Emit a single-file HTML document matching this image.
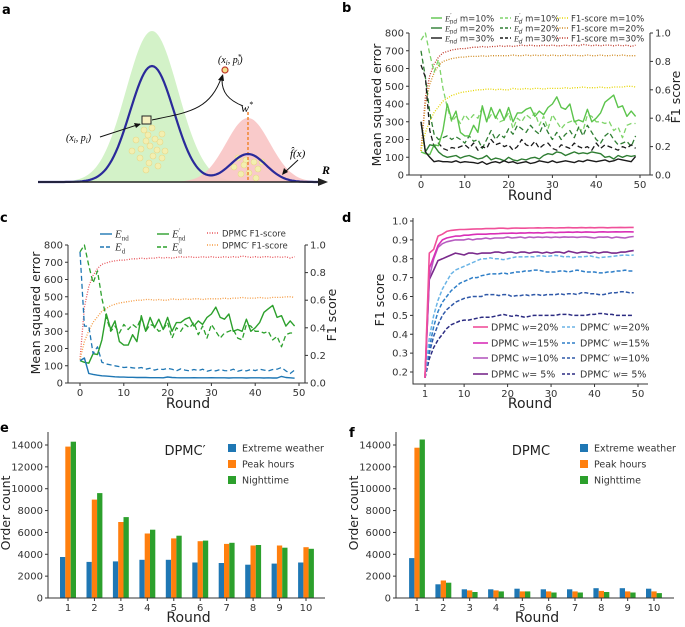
<!DOCTYPE html>
<html><head><meta charset="utf-8"><style>
html,body{margin:0;padding:0;background:#fff}
svg{display:block;font-family:"DejaVu Sans","Liberation Sans",sans-serif}
</style></head><body>
<svg id="fig" width="685" height="627" viewBox="0 0 685 627" xmlns="http://www.w3.org/2000/svg">
<!-- panel a illustration -->
<g>
<text x="2" y="14" font-size="13" font-weight="bold">a</text>
<path id="greenfill" fill="#d3f2c8"/>
<path id="pinkfill" fill="#f8c4c4" opacity="0.9"/>
<g id="dots"></g>
<line x1="248" y1="112" x2="248" y2="182" stroke="#f08a3a" stroke-width="1.6" stroke-dasharray="3,2"/>
<path id="fhat" fill="none" stroke="#2a2a9a" stroke-width="2.2"/>
<line x1="38" y1="182" x2="322" y2="182" stroke="#222" stroke-width="1.6"/>
<polygon points="328,182 318,178 318,186" fill="#222"/>
<text x="322" y="174" font-size="12" font-style="italic" font-weight="bold" font-family="Liberation Serif,serif">R</text>
<rect x="142" y="116" width="9" height="8" fill="#f5f0c0" stroke="#222" stroke-width="1"/>
<path d="M100 137 L140 124" stroke="#111" fill="none" stroke-width="1"/><polygon points="141,124 134,123 136,128" fill="#111"/>
<path d="M152 120 C190 112,210 110,222 76" stroke="#111" fill="none" stroke-width="1"/><polygon points="223,74 218,80 224,81" fill="#111"/>
<path d="M243 106 C228 100,222 92,222 80" stroke="#111" fill="none" stroke-width="1"/>
<circle cx="225" cy="70" r="3" fill="#f5e08a" stroke="#c0392b" stroke-width="1.2"/>
<text x="218" y="63" font-size="10" font-style="italic" font-family="Liberation Serif,serif">(x<tspan font-size="7" dy="2">i</tspan><tspan dy="-2">, p</tspan><tspan font-size="7" dy="-4">*</tspan><tspan font-size="7" dx="-4" dy="6">i</tspan><tspan dy="-2">)</tspan></text>
<text x="241" y="112" font-size="12" font-style="italic" font-family="Liberation Serif,serif">w<tspan font-size="8" dy="-5">*</tspan></text>
<text x="66" y="141" font-size="10" font-style="italic" font-family="Liberation Serif,serif">(x<tspan font-size="7" dy="2">i</tspan><tspan dy="-2">, p</tspan><tspan font-size="7" dy="2">i</tspan><tspan dy="-2">)</tspan></text>
<text x="290" y="157" font-size="11" font-style="italic" font-family="Liberation Serif,serif">f̂(x)</text>
<path d="M298 160 L284 173" stroke="#111" fill="none" stroke-width="1"/><polygon points="282,175 284,168 288,172" fill="#111"/>
</g>
<g id="plots"></g>
</svg>
<script>
// ---------- data ----------
const roundsC = Array.from({length:50},(_, i)=>i);
const cEnd = [130,145,55,50,45,42,40,38,36,35,34,33,33,32,32,32,31,31,31,30,35,32,31,30,30,30,31,30,30,30,31,30,30,30,29,30,30,30,29,30,30,30,29,30,29,29,38,32,30,28];
const cEd = [760,330,330,170,210,120,110,105,100,95,90,92,88,85,90,80,85,75,82,78,85,80,70,82,75,70,78,72,80,68,75,70,78,72,70,80,68,75,70,78,72,80,75,70,78,80,90,70,55,75];
const cEndP = [130,120,115,170,165,250,400,310,360,240,220,220,280,240,390,300,380,320,370,310,380,300,350,350,370,380,330,360,340,380,400,440,380,370,400,300,310,300,370,300,320,350,410,430,450,380,390,330,360,330];
const cEdP = [760,800,680,580,650,490,380,300,330,290,340,310,340,320,380,300,340,330,300,310,350,260,320,300,340,320,350,280,330,260,340,300,260,290,300,310,260,250,340,330,300,300,290,300,250,270,210,280,290,290];
const cF1 = [0.17,0.55,0.7,0.78,0.83,0.86,0.87,0.88,0.885,0.89,0.89,0.895,0.9,0.9,0.905,0.9,0.905,0.905,0.91,0.905,0.91,0.905,0.91,0.915,0.91,0.915,0.91,0.91,0.915,0.91,0.915,0.91,0.91,0.915,0.91,0.915,0.91,0.92,0.915,0.91,0.915,0.91,0.915,0.915,0.91,0.915,0.91,0.915,0.905,0.915];
const cF1P = [0.17,0.3,0.38,0.44,0.48,0.52,0.54,0.56,0.57,0.58,0.585,0.59,0.595,0.6,0.6,0.605,0.605,0.6,0.605,0.6,0.6,0.61,0.605,0.605,0.61,0.605,0.61,0.61,0.605,0.61,0.61,0.61,0.61,0.615,0.61,0.615,0.615,0.62,0.615,0.615,0.615,0.62,0.615,0.615,0.62,0.62,0.62,0.625,0.625,0.62];
const bNd20 = [300,130,170,165,130,110,100,105,110,95,105,110,100,90,95,110,85,95,90,80,100,85,80,90,85,95,100,90,110,120,115,130,125,110,120,130,120,125,120,130,125,120,100,105,90,110,100,110,105,110];
const bNd30 = [300,130,100,75,80,75,75,72,80,70,75,72,70,65,75,60,70,75,68,80,70,75,65,70,75,65,70,80,75,70,80,70,75,80,75,70,80,75,85,80,75,80,85,75,80,90,85,80,75,105];
const bD20 = [700,550,350,230,200,210,220,200,215,200,180,220,190,200,150,200,250,200,230,210,260,230,280,260,240,280,250,230,290,240,200,240,200,230,250,210,270,220,280,240,200,180,220,240,200,170,180,190,160,220];
const bD30 = [620,550,250,160,180,150,140,155,150,160,170,150,180,140,160,150,200,170,180,160,170,140,160,200,170,160,190,150,170,180,150,140,170,160,150,180,160,150,160,140,180,150,170,160,150,140,160,150,170,150];
const bF20 = [0.17,0.5,0.64,0.72,0.77,0.8,0.81,0.82,0.825,0.83,0.83,0.835,0.835,0.835,0.84,0.835,0.84,0.84,0.84,0.84,0.84,0.845,0.84,0.84,0.845,0.84,0.845,0.84,0.845,0.84,0.845,0.84,0.84,0.845,0.84,0.845,0.84,0.84,0.845,0.84,0.84,0.845,0.84,0.84,0.845,0.84,0.845,0.84,0.84,0.84];
const roundsD = Array.from({length:49},(_, i)=>i+1);
const d20 = [.17,.83,.85,.92,.93,.945,.95,.953,.955,.955,.956,.957,.958,.958,.96,.96,.96,.962,.962,.96,.962,.963,.962,.962,.963,.963,.964,.963,.964,.964,.963,.964,.964,.965,.964,.964,.965,.964,.965,.964,.965,.965,.964,.965,.965,.966,.965,.966,.966];
const d15 = [.17,.75,.81,.87,.9,.91,.915,.92,.92,.925,.925,.928,.93,.93,.93,.932,.932,.933,.935,.935,.936,.935,.937,.936,.938,.937,.938,.936,.939,.94,.938,.94,.94,.941,.94,.942,.94,.942,.941,.94,.942,.943,.941,.942,.943,.942,.943,.943,.942];
const d10 = [.17,.7,.8,.86,.88,.89,.895,.9,.9,.9,.905,.9,.905,.905,.91,.905,.91,.91,.91,.915,.91,.912,.915,.91,.915,.912,.915,.913,.915,.912,.915,.913,.916,.914,.915,.913,.915,.916,.913,.91,.915,.914,.916,.91,.915,.912,.91,.915,.918];
const d5 = [.17,.69,.74,.79,.8,.81,.82,.83,.825,.82,.83,.83,.825,.83,.83,.83,.835,.835,.83,.835,.835,.83,.835,.835,.83,.835,.835,.83,.835,.83,.835,.835,.83,.84,.835,.83,.835,.835,.83,.835,.83,.835,.835,.83,.83,.835,.835,.84,.843];
const p20 = [.17,.38,.5,.58,.64,.68,.72,.74,.75,.76,.77,.78,.79,.8,.8,.805,.8,.8,.795,.8,.805,.81,.81,.81,.812,.81,.815,.815,.812,.815,.818,.815,.81,.812,.806,.81,.81,.812,.815,.81,.805,.808,.81,.812,.815,.818,.82,.818,.82];
const p15 = [.17,.33,.44,.52,.57,.6,.63,.65,.67,.68,.69,.7,.7,.71,.715,.72,.72,.72,.725,.72,.725,.73,.73,.735,.735,.74,.74,.735,.73,.73,.73,.735,.735,.73,.735,.74,.735,.73,.73,.73,.725,.725,.73,.73,.735,.735,.74,.735,.735];
const p10 = [.17,.3,.39,.45,.5,.53,.55,.57,.58,.59,.595,.6,.6,.6,.61,.61,.61,.605,.61,.61,.6,.605,.605,.61,.605,.61,.61,.605,.61,.61,.61,.615,.61,.615,.615,.61,.62,.62,.615,.615,.61,.61,.615,.62,.62,.625,.625,.62,.62];
const p5 = [.17,.27,.33,.37,.4,.43,.45,.46,.47,.475,.475,.48,.485,.49,.49,.49,.495,.5,.505,.5,.495,.5,.495,.49,.495,.5,.5,.5,.5,.5,.5,.505,.505,.505,.5,.5,.5,.5,.505,.505,.51,.51,.505,.505,.5,.5,.5,.5,.5];
const barRounds = [1,2,3,4,5,6,7,8,9,10];
const eWeather = [3750,3300,3350,3500,3500,3250,3200,3050,3150,3250];
const ePeak = [13850,9000,6950,5900,5450,5200,4950,4800,4800,4650];
const eNight = [14300,9600,7400,6250,5700,5250,5050,4850,4600,4500];
const fWeather = [3650,1250,800,800,850,800,800,900,900,850];
const fPeak = [13750,1600,700,700,600,600,600,650,600,600];
const fNight = [14500,1400,550,600,600,500,500,550,500,450];
const mseTicks = [0,100,200,300,400,500,600,700,800];
const f1Ticks = [0,0.2,0.4,0.6,0.8,1.0];
const roundTicks = [0,10,20,30,40,50];
const dTicks = [0.2,0.3,0.4,0.5,0.6,0.7,0.8,0.9,1.0];
const dRoundTicks = [1,10,20,30,40,50];
const countTicks = [0,2000,4000,6000,8000,10000,12000,14000];

// ---------- helpers ----------
const NS="http://www.w3.org/2000/svg";
const root=document.getElementById('plots');
const TFS=10;
function mk(tag,attrs,parent,txt){const e=document.createElementNS(NS,tag);for(const k in attrs)e.setAttribute(k,attrs[k]);if(txt!==undefined)e.textContent=txt;(parent||root).appendChild(e);return e;}
function lin(d0,d1,r0,r1){return v=>r0+(v-d0)/(d1-d0)*(r1-r0);}
function series(g,xs,ys,sx,sy,color,dash,w,name){
  const d=xs.map((x,i)=>(i?'L':'M')+sx(x).toFixed(1)+' '+sy(ys[i]).toFixed(1)).join(' ');
  const p=mk('path',{d:d,fill:'none',stroke:color,'stroke-width':w||1.3,'stroke-dasharray':dash||'none','stroke-linejoin':'round'},g);
  
  
}
function yTicks(g,ticks,sy,x,fmt,side){
  ticks.forEach(t=>{const y=sy(t);
    mk('line',{x1:x,x2:side>0?x+3:x-3,y1:y,y2:y,stroke:'#333','stroke-width':1},g);
    const tx=mk('text',{x:side>0?x+5:x-5,y:y+3.5,'font-size':TFS,fill:'#333','text-anchor':side>0?'start':'end'},g,fmt(t));
    
    
  });
}
function xTicks(g,ticks,sx,y,fmt){
  ticks.forEach(t=>{const x=sx(t);
    mk('line',{x1:x,x2:x,y1:y,y2:y+3,stroke:'#333','stroke-width':1},g);
    const tx=mk('text',{x:x,y:y+13,'font-size':TFS,fill:'#333','text-anchor':'middle'},g,fmt(t));
    
    
  });
}
function label(g,x,y,txt,size,rot,name){
  const t=mk('text',{x:x,y:y,'font-size':size,fill:'#222','text-anchor':'middle',transform:rot?`rotate(${rot} ${x} ${y})`:''},g,txt);
  
  
  return t;
}
function panelLabel(x,y,t){const e=mk('text',{x:x,y:y,'font-size':13,'font-weight':'bold'},root,t);
  
  }
function legLine(g,x,y,w,color,dash,txt,fs,tw,name){
  mk('line',{x1:x,x2:x+w,y1:y,y2:y,stroke:color,'stroke-width':tw||1.4,'stroke-dasharray':dash||'none'},g);
  const t=mk('text',{x:x+w+3,y:y+3.5,'font-size':fs,fill:'#333'},g);
  t.innerHTML=txt;
  
  
}
const GL='#7fd46a', GD='#2e7d32', BK='#1a1a1a';
const Ep='<tspan font-style="italic" font-family="Liberation Serif,serif">E</tspan><tspan font-size="6" dy="-4">′</tspan><tspan font-size="6" dx="-2" dy="6" font-style="italic">nd</tspan><tspan dy="-2"> </tspan>';
const EpD='<tspan font-style="italic" font-family="Liberation Serif,serif">E</tspan><tspan font-size="6" dy="-4">′</tspan><tspan font-size="6" dx="-2" dy="6" font-style="italic">d</tspan><tspan dy="-2"> </tspan>';

// ---------- panel a curves ----------
(function(){
  let gf='M38 182',pf='M38 182',fh='';
  for(let x=38;x<=320;x+=2){
    const yg=182-151*Math.exp(-((x-152)**2)/(2*26*26));
    const yp=182-64*Math.exp(-((x-248)**2)/(2*22*22));
    const yf=182-116*Math.exp(-((x-152)**2)/(2*22*22))-28*Math.exp(-((x-248)**2)/(2*18*18));
    gf+=` L${x} ${yg.toFixed(1)}`;pf+=` L${x} ${yp.toFixed(1)}`;fh+=(fh?' L':'M')+`${x} ${yf.toFixed(1)}`;
  }
  document.getElementById('greenfill').setAttribute('d',gf+' L320 182 Z');
  document.getElementById('pinkfill').setAttribute('d',pf+' L320 182 Z');
  document.getElementById('fhat').setAttribute('d',fh);
  const dots=document.getElementById('dots');
  const pts=[[144,130],[152,128],[148,135],[162,134],[136,140],[146,141],[155,139],[160,142],[132,151],[141,149],[150,146],[157,150],[165,151],[140,158],[153,156],[162,158],[149,163],[158,166],[146,170],[238,158],[246,160],[254,162],[262,162],[234,167],[244,165],[258,169],[241,174],[249,173],[256,178]];
  pts.forEach(p=>{const c=mk('circle',{cx:p[0],cy:p[1],r:3,fill:'#f3efb0',stroke:'#e8d98a','stroke-width':0.6},dots);
    
    });
})();

// ---------- panel b ----------
(function(){
  panelLabel(342,12,'b');
  const g=mk('g',{});
  const sx=lin(0,50,421,640), sy=lin(0,800,175,33), sf=lin(0,1,175,33);
  series(g,roundsC,cF1,sx,sf,'#c0392b','1,1.5',1.3,'f1-m30');
  series(g,roundsC,bF20,sx,sf,'#d08a20','1,1.5',1.3,'f1-m20');
  series(g,roundsC,cF1P,sx,sf,'#e6d600','1,1.5',1.3,'f1-m10');
  series(g,roundsC,cEdP,sx,sy,GL,'5,3',1.3,'ed-m10');
  series(g,roundsC,bD20,sx,sy,GD,'5,3',1.3,'ed-m20');
  series(g,roundsC,bD30,sx,sy,BK,'5,3',1.3,'ed-m30');
  series(g,roundsC,cEndP,sx,sy,'#5cc44c','',1.4,'end-m10');
  series(g,roundsC,bNd20,sx,sy,GD,'',1.4,'end-m20');
  series(g,roundsC,bNd30,sx,sy,BK,'',1.4,'end-m30');
  mk('path',{d:'M409 33 V175 H650 V33',fill:'none',stroke:'#333','stroke-width':1},g);
  yTicks(g,mseTicks,sy,409,t=>t,-1);
  yTicks(g,f1Ticks,sf,650,t=>t.toFixed(1),1);
  xTicks(g,roundTicks,sx,175,t=>t);
  label(g,530,200,'Round',14,0,'x-axis-title-b');
  label(g,381,105,'Mean squared error',12.5,-90,'y-axis-title-b');
  label(g,680,97,'F1 score',12.5,-90,'y2-axis-title-b');
  const L=mk('g',{},g);
  const fs=8.5;
  legLine(L,431,18,11,'#5cc44c','',Ep+'m=10%',fs,1.4,'legend-entry');
  legLine(L,431,28,11,GD,'',Ep+'m=20%',fs,1.4,'legend-entry');
  legLine(L,431,38,11,BK,'',Ep+'m=30%',fs,1.4,'legend-entry');
  legLine(L,500,18,11,GL,'3,2',EpD+'m=10%',fs,1.4,'legend-entry');
  legLine(L,500,28,11,GD,'3,2',EpD+'m=20%',fs,1.4,'legend-entry');
  legLine(L,500,38,11,BK,'3,2',EpD+'m=30%',fs,1.4,'legend-entry');
  legLine(L,557,18,11,'#e6d600','1,1.5','F1-score m=10%',fs,1.4,'legend-entry');
  legLine(L,557,28,11,'#d08a20','1,1.5','F1-score m=20%',fs,1.4,'legend-entry');
  legLine(L,557,38,11,'#c0392b','1,1.5','F1-score m=30%',fs,1.4,'legend-entry');
})();

// ---------- panel c ----------
(function(){
  panelLabel(0,222,'c');
  const g=mk('g',{});
  const sx=lin(0,50,80,299), sy=lin(0,800,383,245), sf=lin(0,1,383,245);
  series(g,roundsC,cF1,sx,sf,'#e8545a','1,1.5',1.3,'dpmc-f1');
  series(g,roundsC,cF1P,sx,sf,'#f59a40','1,1.5',1.3,'dpmc-prime-f1');
  series(g,roundsC,cEdP,sx,sy,'#2ca02c','5,3',1.3,'ed-prime');
  series(g,roundsC,cEndP,sx,sy,'#2ca02c','',1.4,'end-prime');
  series(g,roundsC,cEd,sx,sy,'#1f77b4','5,3',1.3,'ed');
  series(g,roundsC,cEnd,sx,sy,'#1f77b4','',1.4,'end');
  mk('path',{d:'M68 245 V383 H305 V245',fill:'none',stroke:'#333','stroke-width':1},g);
  yTicks(g,mseTicks,sy,68,t=>t,-1);
  yTicks(g,f1Ticks,sf,305,t=>t.toFixed(1),1);
  xTicks(g,roundTicks,sx,383,t=>t);
  label(g,188,408,'Round',14,0,'x-axis-title-c');
  label(g,40,313,'Mean squared error',12.5,-90,'y-axis-title-c');
  label(g,336,315,'F1 score',12.5,-90,'y2-axis-title-c');
  const L=mk('g',{},g);
  const EN='<tspan font-style="italic" font-family="Liberation Serif,serif" font-size="11">E</tspan><tspan font-size="7" dy="3" font-family="Liberation Serif,serif">nd</tspan>';
  const ED='<tspan font-style="italic" font-family="Liberation Serif,serif" font-size="11">E</tspan><tspan font-size="7" dy="3" font-family="Liberation Serif,serif">d</tspan>';
  const ENP='<tspan font-style="italic" font-family="Liberation Serif,serif" font-size="11">E</tspan><tspan font-size="7" dy="-4">′</tspan><tspan font-size="7" dx="-2" dy="7" font-family="Liberation Serif,serif">nd</tspan>';
  const EDP='<tspan font-style="italic" font-family="Liberation Serif,serif" font-size="11">E</tspan><tspan font-size="7" dy="-4">′</tspan><tspan font-size="7" dx="-2" dy="7" font-family="Liberation Serif,serif">d</tspan>';
  legLine(L,100,234,12,'#1f77b4','',EN,10,1.4,'legend-entry');
  legLine(L,100,247,12,'#1f77b4','4,2',ED,10,1.4,'legend-entry');
  legLine(L,157,234,12,'#2ca02c','',ENP,10,1.4,'legend-entry');
  legLine(L,157,247,12,'#2ca02c','4,2',EDP,10,1.4,'legend-entry');
  legLine(L,207,233,12,'#e8545a','1,1.5','DPMC F1-score',8.5,1.4,'legend-entry');
  legLine(L,207,245,12,'#f59a40','1,1.5','DPMC′ F1-score',8.5,1.4,'legend-entry');
})();

// ---------- panel d ----------
(function(){
  panelLabel(342,222,'d');
  const g=mk('g',{});
  const sx=lin(1,50,425,638), sy=lin(0.2,1.0,372,221);
  const cols={d20:'#f0509a',d15:'#d930b8',d10:'#b65cc0',d5:'#7a2a8c',p20:'#6ab4e6',p15:'#2f7fc8',p10:'#2f58a8',p5:'#2c2c82'};
  series(g,roundsD,p5,sx,sy,cols.p5,'4,2',1.5,'dpmc-prime-w5');
  series(g,roundsD,p10,sx,sy,cols.p10,'4,2',1.5,'dpmc-prime-w10');
  series(g,roundsD,p15,sx,sy,cols.p15,'4,2',1.5,'dpmc-prime-w15');
  series(g,roundsD,p20,sx,sy,cols.p20,'4,2',1.5,'dpmc-prime-w20');
  series(g,roundsD,d5,sx,sy,cols.d5,'',1.6,'dpmc-w5');
  series(g,roundsD,d10,sx,sy,cols.d10,'',1.6,'dpmc-w10');
  series(g,roundsD,d15,sx,sy,cols.d15,'',1.6,'dpmc-w15');
  series(g,roundsD,d20,sx,sy,cols.d20,'',1.6,'dpmc-w20');
  mk('path',{d:'M413 218 V384 H648',fill:'none',stroke:'#333','stroke-width':1},g);
  yTicks(g,dTicks,sy,413,t=>t.toFixed(1),-1);
  xTicks(g,dRoundTicks,sx,384,t=>t);
  label(g,530,408,'Round',14,0,'x-axis-title-d');
  label(g,384,300,'F1 score',12.5,-90,'y-axis-title-d');
  const L=mk('g',{},g);
  const W='<tspan font-style="italic" font-family="Liberation Serif,serif" font-size="11">w</tspan>';
  legLine(L,473,327,15,cols.d20,'','DPMC '+W+'=20%',9.5,1.6,'legend-entry');
  legLine(L,473,343,15,cols.d15,'','DPMC '+W+'=15%',9.5,1.6,'legend-entry');
  legLine(L,473,358,15,cols.d10,'','DPMC '+W+'=10%',9.5,1.6,'legend-entry');
  legLine(L,473,374,15,cols.d5,'','DPMC '+W+'= 5%',9.5,1.6,'legend-entry');
  legLine(L,562,327,15,cols.p20,'3,2','DPMC′ '+W+'=20%',9.5,1.6,'legend-entry');
  legLine(L,562,343,15,cols.p15,'3,2','DPMC′ '+W+'=15%',9.5,1.6,'legend-entry');
  legLine(L,562,358,15,cols.p10,'3,2','DPMC′ '+W+'=10%',9.5,1.6,'legend-entry');
  legLine(L,562,374,15,cols.p5,'3,2','DPMC′ '+W+'= 5%',9.5,1.6,'legend-entry');
})();

// ---------- bar panels ----------
function bars(opt){
  panelLabel(opt.lx,opt.ly,opt.letter);
  const g=mk('g',{});
  const sx=lin(1,10,opt.x1,opt.x10), sy=lin(0,14000,598,445);
  const bw=5.3, colors=['#1f77b4','#ff7f0e','#2ca02c'], names=['bar-extreme-weather','bar-peak-hours','bar-nighttime'];
  [opt.a,opt.b,opt.c].forEach((arr,k)=>{
    barRounds.forEach((r,i)=>{
      const x=sx(r)+(k-1.5)*bw, y=sy(arr[i]);
      const rc=mk('rect',{x:x.toFixed(1),y:y.toFixed(1),width:bw,height:(598-y).toFixed(1),fill:colors[k]},g);
      
      
    });
  });
  mk('path',{d:`M${opt.ax} 432 V598 H${opt.ax2}`,fill:'none',stroke:'#333','stroke-width':1},g);
  yTicks(g,countTicks,sy,opt.ax,t=>t,-1);
  xTicks(g,barRounds,sx,598,t=>t);
  label(g,(opt.ax+opt.ax2)/2+2,622,'Round',14,0,'x-axis-title-'+opt.letter);
  label(g,opt.ylx,513,'Order count',12.5,-90,'y-axis-title-'+opt.letter);
  const t=mk('text',{x:opt.tx,y:455,'font-size':13,fill:'#222','text-anchor':'middle'},g,opt.title);
  
  
  const L=mk('g',{},g);
  ['Extreme weather','Peak hours','Nighttime'].forEach((s,k)=>{
    const y=[448,464,480][k];
    mk('rect',{x:opt.legx,y:y-4,width:8,height:8,fill:colors[k]},L);
    const tt=mk('text',{x:opt.legx+14,y:y+3.5,'font-size':9.5,fill:'#333'},L,s);
    
    
  });
}
bars({letter:'e',lx:0,ly:432,a:eWeather,b:ePeak,c:eNight,x1:68,x10:306,ax:48,ax2:325,ylx:10,tx:185,title:'DPMC′',legx:228});
bars({letter:'f',lx:349,ly:437,a:fWeather,b:fPeak,c:fNight,x1:417,x10:654,ax:396,ax2:674,ylx:358,tx:531,title:'DPMC',legx:580});
</script>
</body></html>
